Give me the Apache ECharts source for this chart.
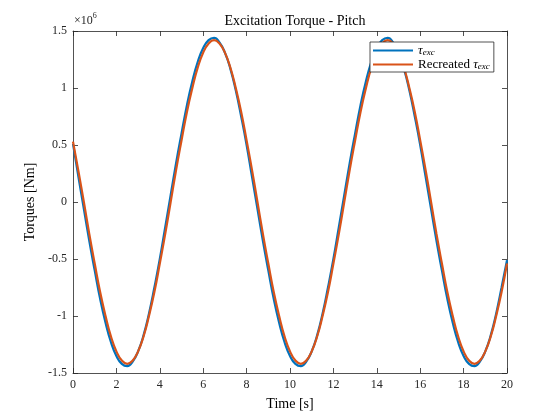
<!DOCTYPE html>
<html>
<head>
<meta charset="utf-8">
<script src="https://cdn.jsdelivr.net/npm/echarts@6/dist/echarts.min.js"></script>
<style>
  html, body { margin: 0; padding: 0; background: #fff; }
  #main { width: 560px; height: 420px; }
</style>
</head>
<body>
<div id="main"></div>
<script>
// time samples [s]
var timeS = [0, 0.25, 0.5, 0.75, 1, 1.25, 1.5, 1.75, 2, 2.25, 2.5, 2.75, 3, 3.25, 3.5, 3.75,
             4, 4.25, 4.5, 4.75, 5, 5.25, 5.5, 5.75, 6, 6.25, 6.5, 6.75, 7, 7.25, 7.5, 7.75,
             8, 8.25, 8.5, 8.75, 9, 9.25, 9.5, 9.75, 10, 10.25, 10.5, 10.75, 11, 11.25, 11.5, 11.75,
             12, 12.25, 12.5, 12.75, 13, 13.25, 13.5, 13.75, 14, 14.25, 14.5, 14.75, 15, 15.25, 15.5, 15.75,
             16, 16.25, 16.5, 16.75, 17, 17.25, 17.5, 17.75, 18, 18.25, 18.5, 18.75, 19, 19.25, 19.5, 19.75, 20];
// tau_exc (x 10^6 Nm)
var tauExc = [0.51, 0.22, -0.06, -0.34, -0.60, -0.85, -1.06, -1.23, -1.35, -1.42, -1.44, -1.40, -1.31, -1.17, -0.98, -0.75,
              -0.50, -0.22, 0.06, 0.34, 0.60, 0.85, 1.06, 1.23, 1.35, 1.42, 1.44, 1.40, 1.31, 1.17, 0.98, 0.75,
              0.50, 0.22, -0.06, -0.34, -0.60, -0.85, -1.06, -1.23, -1.35, -1.42, -1.44, -1.40, -1.31, -1.17, -0.98, -0.75,
              -0.50, -0.22, 0.06, 0.34, 0.60, 0.85, 1.06, 1.23, 1.35, 1.42, 1.44, 1.40, 1.31, 1.17, 0.98, 0.75,
              0.50, 0.22, -0.06, -0.34, -0.60, -0.85, -1.06, -1.23, -1.35, -1.42, -1.44, -1.40, -1.31, -1.17, -0.98, -0.75, -0.51];
// recreated tau_exc (x 10^6 Nm)
var tauRec = [0.53, 0.27, 0.00, -0.28, -0.54, -0.79, -1.00, -1.18, -1.31, -1.39, -1.42, -1.39, -1.31, -1.18, -1.00, -0.79,
              -0.54, -0.28, 0.00, 0.28, 0.54, 0.79, 1.00, 1.18, 1.31, 1.39, 1.42, 1.39, 1.31, 1.18, 1.00, 0.79,
              0.54, 0.28, 0.00, -0.28, -0.54, -0.79, -1.00, -1.18, -1.31, -1.39, -1.42, -1.39, -1.31, -1.18, -1.00, -0.79,
              -0.54, -0.28, 0.00, 0.28, 0.54, 0.79, 1.00, 1.18, 1.31, 1.39, 1.42, 1.39, 1.31, 1.18, 1.00, 0.79,
              0.54, 0.28, 0.00, -0.28, -0.54, -0.79, -1.00, -1.18, -1.31, -1.39, -1.42, -1.39, -1.31, -1.18, -1.00, -0.79, -0.54];
var scale = 1e6;
var xTicks = [0, 20, 2];
var yTicks = [-1.5e6, 1.5e6, 0.5e6];

function pairs(xs, ys) {
    var out = [];
    for (var i = 0; i < xs.length; i++) out.push([xs[i], ys[i] * scale]);
    return out;
}

var font = 'Liberation Serif';
var chart = echarts.init(document.getElementById('main'));

var tickStyle = {show: true, inside: true, length: 5, lineStyle: {color: '#262626', width: 0.8}};
var lineAx = {show: true, onZero: false, lineStyle: {color: '#262626', width: 0.8}};

var option = {
    animation: false,
    backgroundColor: '#fff',
    title: {
        text: 'Excitation Torque - Pitch',
        left: 290, top: 9, textAlign: 'center',
        textStyle: {fontFamily: font, fontSize: 14, fontWeight: 'normal', color: '#000'}
    },
    grid: {left: 73, right: 53, top: 31, bottom: 47, containLabel: false},
    legend: {
        orient: 'vertical',
        left: 370, top: 42,
        backgroundColor: '#fff',
        borderColor: '#262626', borderWidth: 0.8, borderRadius: 0,
        padding: [2, 4, 1, 3],
        itemGap: 1,
        icon: 'rect',
        itemWidth: 40, itemHeight: 2,
        formatter: function (name) {
            if (name === 'tau') return '{t|τ}{s|exc}';
            return '{n|Recreated }{t|τ}{s|exc}';
        },
        textStyle: {
            fontFamily: font, color: '#000', lineHeight: 12,
            rich: {
                n: {fontFamily: font, fontSize: 13, lineHeight: 12, color: '#000'},
                t: {fontFamily: font, fontSize: 13, lineHeight: 12, fontStyle: 'italic', color: '#000'},
                s: {fontFamily: font, fontSize: 9, lineHeight: 8, fontStyle: 'italic', color: '#000', padding: [4, 0, 0, 0]}
            }
        },
        data: ['tau', 'recreated']
    },
    graphic: [{
        type: 'text', left: 74, top: 12,
        style: {
            text: '{a|×10}{b|6}',
            rich: {
                a: {fontFamily: font, fontSize: 12, fill: '#262626', padding: [5, 0, 0, 0]},
                b: {fontFamily: font, fontSize: 8, fill: '#262626', padding: [0, 0, 4, 0]}
            }
        }
    }],
    xAxis: [{
        type: 'value', min: xTicks[0], max: xTicks[1], interval: xTicks[2],
        name: 'Time [s]', nameLocation: 'middle', nameGap: 24,
        nameTextStyle: {fontFamily: font, fontSize: 14, color: '#000'},
        axisLine: lineAx, axisTick: tickStyle,
        axisLabel: {fontFamily: font, fontSize: 12, color: '#262626', margin: 6},
        splitLine: {show: false}
    }, {
        type: 'value', position: 'top', min: xTicks[0], max: xTicks[1], interval: xTicks[2],
        axisLine: lineAx, axisTick: tickStyle, axisLabel: {show: false}, splitLine: {show: false}
    }],
    yAxis: [{
        type: 'value', min: yTicks[0], max: yTicks[1], interval: yTicks[2],
        name: 'Torques [Nm]', nameLocation: 'middle', nameGap: 32,
        nameTextStyle: {fontFamily: font, fontSize: 14, color: '#000'},
        axisLine: lineAx, axisTick: tickStyle,
        axisLabel: {
            fontFamily: font, fontSize: 12, color: '#262626', margin: 6,
            formatter: function (v) { return String(Math.round(v / 1e5) / 10); }
        },
        splitLine: {show: false}
    }, {
        type: 'value', position: 'right', min: yTicks[0], max: yTicks[1], interval: yTicks[2],
        axisLine: lineAx, axisTick: tickStyle, axisLabel: {show: false}, splitLine: {show: false}
    }],
    series: [{
        name: 'tau', type: 'line', smooth: true, symbol: 'none',
        lineStyle: {color: '#0072BD', width: 2.2}, itemStyle: {color: '#0072BD'},
        data: pairs(timeS, tauExc)
    }, {
        name: 'recreated', type: 'line', smooth: true, symbol: 'none',
        lineStyle: {color: '#D95319', width: 2.2}, itemStyle: {color: '#D95319'},
        data: pairs(timeS, tauRec)
    }]
};
chart.setOption(option);
</script>
</body>
</html>
